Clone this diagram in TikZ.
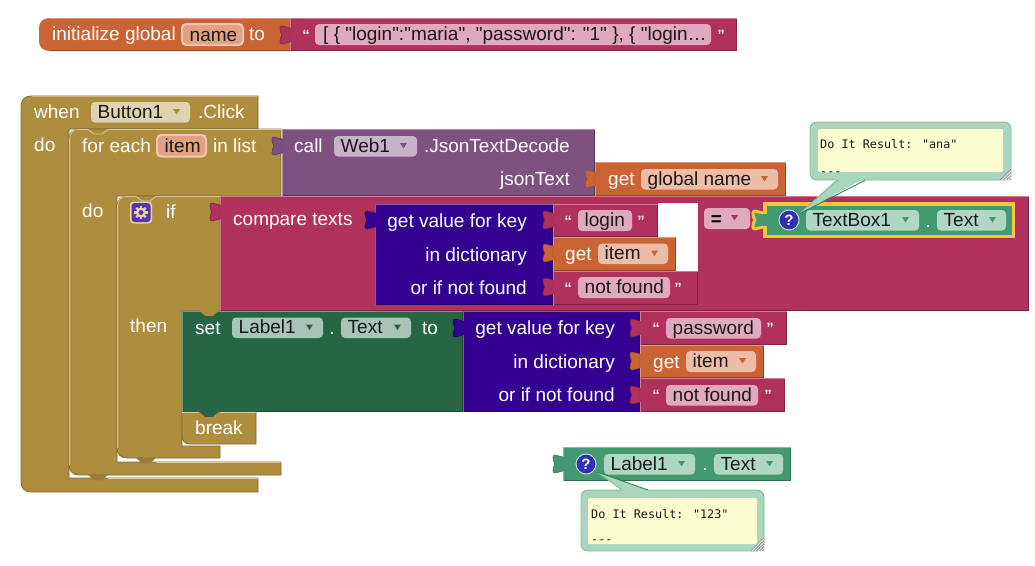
\documentclass[tikz,border=0pt]{standalone}
\usepackage{fontspec}
\setmainfont{Liberation Sans}
\newfontfamily\plainf{Liberation Sans}
\newfontfamily\monof{DejaVu Sans Mono}
\definecolor{oliveb}{HTML}{AE8D3E}
\definecolor{orangeb}{HTML}{CB6434}
\definecolor{crimb}{HTML}{B0325C}
\definecolor{purpb}{HTML}{7E5181}
\definecolor{indb}{HTML}{330091}
\definecolor{dgreen}{HTML}{266644}
\definecolor{lgreen}{HTML}{439A70}
\definecolor{yell}{HTML}{F5C53F}
\definecolor{foliveb}{HTML}{E0D3AF}
\definecolor{forange}{HTML}{EEBDA7}
\definecolor{fvar}{HTML}{E0A283}
\definecolor{fpurp}{HTML}{C9B3CB}
\definecolor{fcrim}{HTML}{E0A9BF}
\definecolor{fdgreen}{HTML}{A8C5B8}
\definecolor{flgreen}{HTML}{B0D6C4}
\definecolor{bubble}{HTML}{A9D6BD}
\definecolor{bubbleedge}{HTML}{7EBB9B}
\definecolor{note}{HTML}{FDFDD2}
\definecolor{qblue}{HTML}{2F2FB8}
\definecolor{gearbg}{HTML}{5A35A8}
\tikzset{
  wtxt/.style={text=white,inner sep=0pt,font=\fontsize{19}{22}\selectfont},
  btxt/.style={text=black!90,inner sep=0pt,font=\fontsize{19}{22}\selectfont},
  qtxt/.style={text=white!92!black,inner sep=0pt,font=\fontsize{15}{18}\selectfont\bfseries},
  mono/.style={text=black!90,inner sep=0pt,font=\fontsize{11.8}{14}\selectfont\monof},
}
% rectangular block with bevel
\newcommand{\blk}[5]{%
  \fill[#5] (#1,#2) rectangle (#3,#4);
  \draw[#5!72!black,line width=0.9] (#3-0.4,#2) -- (#3-0.4,#4-0.4) -- (#1,#4-0.4);
  \draw[#5!65!white,line width=0.8] (#1+0.4,#4) -- (#1+0.4,#2+0.4) -- (#3,#2+0.4);}
% puzzle tab outline: right edge x, centre c
\newcommand{\tabpath}[2]{(#1,#2-7) .. controls (#1-3,#2-7) and (#1-5,#2-9) .. (#1-8,#2-9)
    .. controls (#1-10.5,#2-9) and (#1-10.5,#2-5) .. (#1-9.5,#2-3)
    .. controls (#1-9,#2-1.5) and (#1-8.2,#2-0.5) .. (#1-8.2,#2)
    .. controls (#1-8.2,#2+0.5) and (#1-9,#2+1.5) .. (#1-9.5,#2+3)
    .. controls (#1-10.5,#2+5) and (#1-10.5,#2+9) .. (#1-8,#2+9)
    .. controls (#1-5,#2+9) and (#1-3,#2+7) .. (#1,#2+7)}
\newcommand{\tabin}[3]{%
  \fill[#3,draw=#3!70!black,line width=0.5] \tabpath{#1}{#2} -- cycle;
  \fill[#3] (#1-0.2,#2-7) rectangle (#1+1,#2+7);}
% field: name, x1,y1,x2,y2, fill, text, arrow colour
\newcommand{\fld}[8]{%
  \fill[#6,rounded corners=4] (#2,#3) rectangle (#4,#5);
  \node[btxt,anchor=base west] (#1) at (#2+6.5,#3+16) {#7};
  \fill[#8] (#4-17,#3+7) -- (#4-10,#3+7) -- (#4-13.5,#3+12.5) -- cycle;}
% field without arrow
\newcommand{\fldn}[7]{%
  \fill[#6,rounded corners=4] (#2,#3) rectangle (#4,#5);
  \node[btxt,anchor=base west] (#1) at (#2+6.5,#3+16) {#7};}
% hanging statement notch
\newcommand{\notchfill}[3]{%
  \fill[#3] (#1,#2-0.5) -- (#1+6,#2+5) -- (#1+14,#2+5) -- (#1+20,#2-0.5) -- cycle;}
\newcommand{\notchline}[3]{%
  \draw[#3,line width=0.8] (#1-8,#2+0.4) -- (#1,#2+0.4) -- (#1+6,#2+5) -- (#1+14,#2+5) -- (#1+20,#2+0.4);}
\newcommand{\qcirc}[3]{%
  \fill[qblue,draw=white!75!lgreen,line width=0.9] (#2,#3) circle (10);
  \node[inner sep=0pt,text=white,font=\fontsize{15}{16}\selectfont\bfseries] (#1) at (#2,#3) {?};}
\begin{document}
\begin{tikzpicture}[x=1pt,y=-1pt]
\useasboundingbox (0,0) rectangle (1035,565);
\fill[white] (0,0) rectangle (1035,565);

%% ---------- initialize global
\path[fill=orangeb] (290,18) -- (290,51) -- (50,51) .. controls (43,51) and (39,47) .. (39,41) -- (39,28) .. controls (39,22) and (43,18) .. (50,18) -- cycle;
\draw[orangeb!72!black,line width=0.9] (50,50.6) -- (290,50.6);
\draw[orangeb!65!white,line width=0.8] (49,18.4) -- (290,18.4);
\node[wtxt,anchor=base west] (t1) at (52,40) {initialize global};
\fill[fvar!60!white,rounded corners=5] (181,23) rectangle (244,46);
\fldn{fname}{183}{25}{242}{44}{fvar}{name}
\node[wtxt,anchor=base west] (t2) at (249,40) {to};
\blk{290}{18}{737}{51}{crimb}
\tabin{290}{35}{crimb}
\node[qtxt,anchor=base] (q1) at (306,40) {“};
\fill[fcrim,rounded corners=4] (315,24) rectangle (711,45);
\node[btxt,anchor=base west] (t3) at (323,40.5) {\plainf [ \{ "login":"maria", "password": "1" \}, \{ "login…};
\node[qtxt,anchor=base] (q2) at (721,40) {”};

%% ---------- when
\path[fill=oliveb,draw=oliveb!75!black,line width=0.8] (31,96) -- (258,96) -- (258,129) -- (69,129) -- (69,478) -- (258,478) -- (258,492) -- (31,492) .. controls (25,492) and (21,488) .. (21,482) -- (21,106) .. controls (21,100) and (25,96) .. (31,96) -- cycle;
\draw[oliveb!65!white,line width=0.8] (32,96.4) -- (257,96.4);
%% ---------- for each
\path[fill=oliveb,draw=oliveb!75!black,line width=0.8] (79,129) -- (281,129) -- (281,196) -- (117,196) -- (117,462) -- (281,462) -- (281,475) -- (79,475) .. controls (73,475) and (69,471) .. (69,465) -- (69,139) .. controls (69,133) and (73,129) .. (79,129) -- cycle;
\draw[oliveb!50!white,line width=0.9] (69.6,465) -- (69.6,139) .. controls (69.6,133) and (73,129.4) .. (79,129.4) -- (80,129.4);
\notchline{88}{129}{oliveb!50!white}
\draw[oliveb!50!white,line width=0.8] (108,129.4) -- (281,129.4);
\notchfill{88}{475.3}{oliveb!88!black}
\draw[oliveb!50!white,line width=0.8] (108,478.4) -- (258,478.4);
%% ---------- if
\path[fill=oliveb,draw=oliveb!75!black,line width=0.8] (127,196) -- (220,196) -- (220,311) -- (182,311) -- (182,446) -- (220,446) -- (220,458) -- (127,458) .. controls (121,458) and (117,454) .. (117,448) -- (117,206) .. controls (117,200) and (121,196) .. (127,196) -- cycle;
\draw[oliveb!50!white,line width=0.9] (117.6,448) -- (117.6,206) .. controls (117.6,200) and (121,196.4) .. (127,196.4) -- (128,196.4);
\notchline{136}{196}{oliveb!50!white}
\draw[oliveb!50!white,line width=0.8] (156,196.4) -- (220,196.4);
\notchfill{136}{458.3}{oliveb!88!black}
\draw[oliveb!50!white,line width=0.8] (156,462.4) -- (281,462.4);

%% labels of control blocks
\node[wtxt,anchor=base west] (w1) at (34,118) {when};
\fld{fb}{91}{102}{190}{122.5}{foliveb}{Button1}{oliveb}
\node[wtxt,anchor=base west] (w2) at (198,118) {.Click};
\node[wtxt,anchor=base west] (w3) at (34,151) {do};
\node[wtxt,anchor=base west] (f1) at (82,152) {for each};
\fill[fvar!60!white,rounded corners=5] (156,134) rectangle (207,157.5);
\fldn{fitem}{158}{136}{205}{155.5}{fvar}{item}
\node[wtxt,anchor=base west] (f2) at (213,152) {in list};
\node[wtxt,anchor=base west] (f3) at (82,217) {do};
\node[wtxt,anchor=base west] (i1) at (166,218) {if};
\node[wtxt,anchor=base west] (i2) at (130,332) {then};
% gear
\fill[foliveb,rounded corners=3.5] (130,201.5) rectangle (152,223.5);
\fill[gearbg,rounded corners=3] (131.5,203) rectangle (150.5,222);
\foreach \a in {0,45,...,315}{\draw[foliveb,line width=2.2] (141,212.5) ++(\a:3.5) -- ++(\a:3.2);}
\draw[foliveb,line width=2.2] (141,212.5) circle (3.8);

%% ---------- call
\blk{282}{129}{595}{196}{purpb}
\tabin{282}{146}{purpb}
\node[wtxt,anchor=base west] (c1) at (294,152) {call};
\fld{fweb}{334}{136}{417}{156.5}{fpurp}{Web1}{purpb}
\node[wtxt,anchor=base east] (c2) at (570,152) {.JsonTextDecode};
\node[wtxt,anchor=base east] (c3) at (570,185) {jsonText};
\blk{595}{162}{786}{196}{orangeb}
\tabin{595}{179}{orangeb}
\node[wtxt,anchor=base west] (g1) at (608,185) {get};
\fld{fgn}{641}{169}{778}{189.5}{forange}{global name}{orangeb}

%% ---------- compare
\blk{220}{196}{1029}{311}{crimb}
\tabin{220}{212}{crimb}
\node[wtxt,anchor=base west] (cmp) at (233,225) {compare texts};
\fill[white] (658,203) rectangle (698,237);
\fill[white] (676,237) rectangle (698,271);
%% get value 1
\blk{375}{204}{553}{305}{indb}
\tabin{375}{220}{indb}
\node[wtxt,anchor=base east] (v1) at (527,227) {get value for key};
\node[wtxt,anchor=base east] (v2) at (527,261) {in dictionary};
\node[wtxt,anchor=base east] (v3) at (527,294) {or if not found};
\blk{553}{204}{658}{237}{crimb}
\tabin{553}{220}{crimb}
\node[qtxt,anchor=base] (q3) at (568,226) {“};
\fldn{flog}{578}{210}{632}{231}{fcrim}{login}
\node[qtxt,anchor=base] (q4) at (641,226) {”};
\blk{553}{237}{676}{271}{orangeb}
\tabin{553}{253}{orangeb}
\node[wtxt,anchor=base west] (g2) at (565,260) {get};
\fld{fit1}{598}{243.5}{668}{264}{forange}{item}{orangeb}
\blk{553}{271}{698}{305}{crimb}
\tabin{553}{287}{crimb}
\node[qtxt,anchor=base] (q5) at (568,293) {“};
\fldn{fnf1}{578}{277}{670}{298}{fcrim}{not found}
\node[qtxt,anchor=base] (q6) at (678,293) {”};
%% = dropdown
\fill[fcrim,rounded corners=4] (704,208) rectangle (750,229);
\node[inner sep=0pt,text=black,font=\fontsize{19}{22}\selectfont\bfseries,anchor=base] (eq) at (716.5,225) {=};
\fill[crimb] (731,215) -- (738,215) -- (734.5,220.5) -- cycle;

%% ---------- TextBox1.Text
\fill[lgreen,draw=yell,line width=3] \tabpath{763}{220} -- cycle;
\fill[yell] (763,202) rectangle (1015,238);
\fill[lgreen] (766.5,205.5) rectangle (1011.5,234.5);
\fill[lgreen] (760,214) rectangle (767,226);
\qcirc{qa}{789}{220}
\fld{ftb}{806}{210}{919}{230.5}{flgreen}{TextBox1}{lgreen}
\node[wtxt,anchor=base] (d1) at (928,227) {.};
\fld{ftx1}{937}{210}{1006}{230.5}{flgreen}{Text}{lgreen}

%% bubble 1
\fill[bubble,draw=bubbleedge,line width=0.9,rounded corners=7] (810,122) rectangle (1011,180);
\fill[bubble] (799,214) -- (838,178) -- (865,178) -- cycle;
\draw[bubbleedge,line width=0.8] (838,180) -- (799,214);
\draw[lgreen!85!black,line width=0.9] (799,214) -- (865,180.3);
\fill[note,rounded corners=1.5] (818,129) rectangle (1003,172);
\fill[black!35] (1011,168) -- (1011,180) -- (999,180) -- cycle;
\foreach \k in {3,6,9}{\draw[white,line width=0.5] (1011-\k,180) -- (1011,180-\k);}
\node[mono,anchor=base west] (n1) at (820,148) {Do It Result: "ana"};
\node[mono,anchor=base west] (n2) at (820,175) {---};

%% ---------- set
\blk{182}{311}{463}{412}{dgreen}
\notchfill{199}{310.8}{oliveb}
\node[wtxt,anchor=base west] (s1) at (195,334) {set};
\fld{fl1}{232}{317.5}{323}{338}{fdgreen}{Label1}{dgreen}
\node[wtxt,anchor=base] (d2) at (332,334) {.};
\fld{ftx2}{341}{317.5}{411}{338}{fdgreen}{Text}{dgreen}
\node[wtxt,anchor=base west] (s2) at (422,334) {to};
%% get value 2
\blk{463}{311}{640}{412}{indb}
\tabin{463}{328}{indb}
\node[wtxt,anchor=base east] (u1) at (615,334) {get value for key};
\node[wtxt,anchor=base east] (u2) at (615,368) {in dictionary};
\node[wtxt,anchor=base east] (u3) at (615,401) {or if not found};
\blk{640}{311}{787}{345}{crimb}
\tabin{640}{328}{crimb}
\node[qtxt,anchor=base] (q7) at (656,333) {“};
\fldn{fpw}{666}{318}{761}{338.5}{fcrim}{password}
\node[qtxt,anchor=base] (q8) at (770,333) {”};
\blk{640}{345}{764}{378}{orangeb}
\tabin{640}{361}{orangeb}
\node[wtxt,anchor=base west] (g3) at (653,368) {get};
\fld{fit2}{686}{351}{756}{372}{forange}{item}{orangeb}
\blk{640}{378}{785}{412}{crimb}
\tabin{640}{395}{crimb}
\node[qtxt,anchor=base] (q9) at (656,400) {“};
\fldn{fnf2}{666}{385}{758}{405.5}{fcrim}{not found}
\node[qtxt,anchor=base] (q10) at (768,400) {”};

%% ---------- break
\path[fill=oliveb,draw=oliveb!75!black,line width=0.8] (256,412) -- (256,444) -- (190,444) .. controls (185,444) and (182,441) .. (182,436) -- (182,412) -- cycle;
\notchfill{199}{411.8}{dgreen}
\draw[oliveb!50!white,line width=0.8] (182,412.4) -- (199,412.4) (220,412.4) -- (256,412.4);
\node[wtxt,anchor=base west] (b1) at (195,434) {break};

%% ---------- Label1.Text
\blk{563}{447}{791}{481}{lgreen}
\tabin{563}{464}{lgreen}
\qcirc{qb}{586}{464}
\fld{fl2}{604}{454}{695}{474.5}{flgreen}{Label1}{lgreen}
\node[wtxt,anchor=base] (d3) at (705,470) {.};
\fld{ftx3}{714}{454}{783}{474.5}{flgreen}{Text}{lgreen}

%% bubble 2
\fill[bubble,draw=bubbleedge,line width=0.9,rounded corners=7] (581,490) rectangle (764,551);
\fill[bubble] (597,472) -- (622,490) -- (622,493) -- (648,493) -- (648,490) -- cycle;
\draw[bubbleedge,line width=0.8] (597,472) -- (622,490);
\draw[lgreen!85!black,line width=0.9] (597,472) -- (648,490);
\fill[note,rounded corners=1.5] (588,498) rectangle (757,544);
\fill[black!35] (764,537) -- (764,551) -- (750,551) -- cycle;
\foreach \k in {3,6,9,12}{\draw[white,line width=0.5] (764-\k,551) -- (764,551-\k);}
\node[mono,anchor=base west] (n3) at (591,518) {Do It Result: "123"};
\node[mono,anchor=base west] (n4) at (591,543.5) {---};
\end{tikzpicture}
\end{document}
